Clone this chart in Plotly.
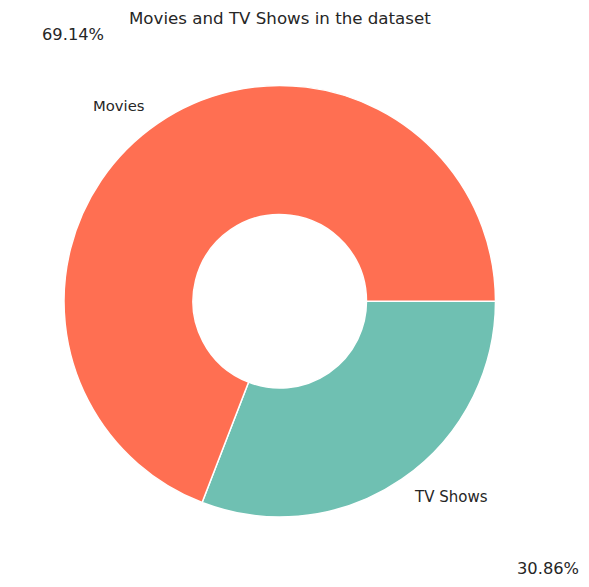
import plotly.graph_objects as go

labels = ["Movies", "TV Shows"]
values = [69.14, 30.86]
colors = ["#FF6F52", "#6FC0B2"]
pct_text = ["69.14%", "30.86%"]
title = "Movies and TV Shows in the dataset"
W, H = 589, 587
font = "DejaVu Sans"
ink = "#262626"

# Listed in reverse and drawn clockwise from 3 o'clock, so Movies runs
# counter-clockwise from 3 o'clock as in the reference.
fig = go.Figure(go.Pie(
    labels=labels[::-1], values=values[::-1], hole=0.402, sort=False,
    direction="clockwise", rotation=90,
    marker=dict(colors=colors[::-1], line=dict(color="white", width=1.5)),
    textinfo="none", hoverinfo="label+percent", showlegend=False,
    domain=dict(x=[64/W, 495.5/W], y=[1-517/H, 1-85.5/H]),
))

def note(text, x, y, size):
    fig.add_annotation(text=text, x=x/W, y=1-y/H, xref="paper", yref="paper",
                       showarrow=False, xanchor="center", yanchor="middle",
                       font=dict(family=font, size=size, color=ink))

note(title, 279.5, 18, 16.67)
note(labels[0], 119, 105.5, 14.8)
note(labels[1], 451, 496.5, 15)
note(pct_text[0], 73, 34, 16.3)
note(pct_text[1], 548, 568, 16.3)

fig.update_layout(width=W, height=H, margin=dict(l=0, r=0, t=0, b=0),
                  paper_bgcolor="white", font=dict(family=font, color=ink))
fig.write_html("out.html", config=dict(displayModeBar=False),
               post_script="document.body.style.margin='0';")
